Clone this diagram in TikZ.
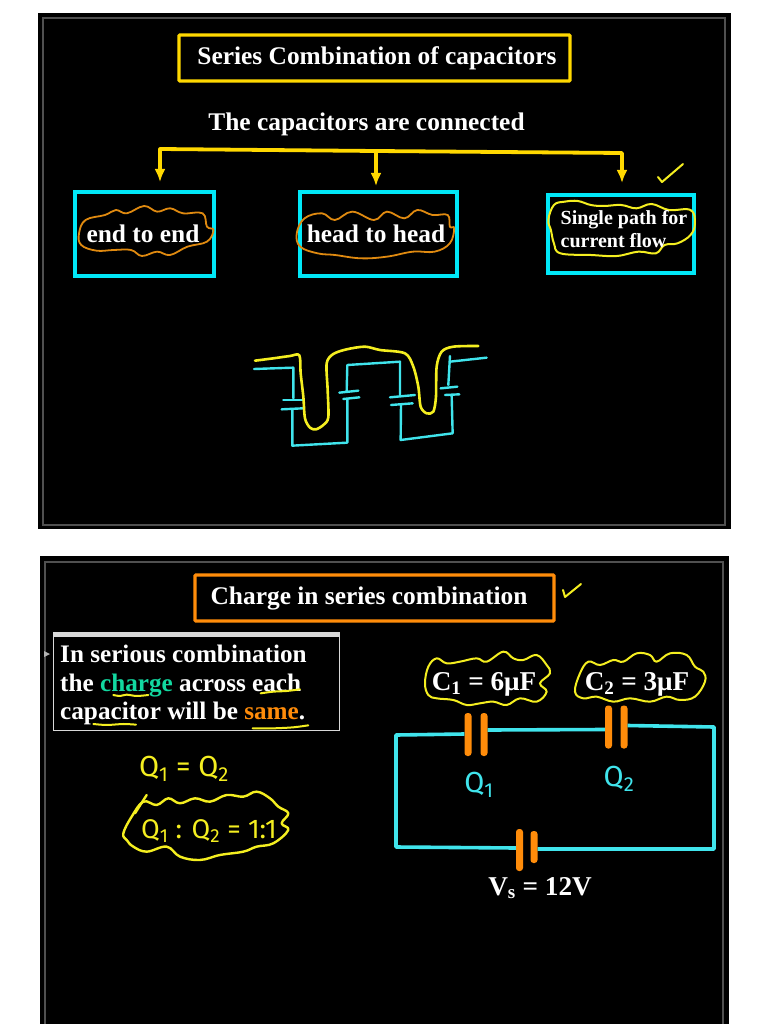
\documentclass[tikz,border=0pt]{standalone}
\usepackage{fontspec}
\setmainfont{Liberation Serif}
\newfontfamily\handfont{Fira Sans}
\usetikzlibrary{arrows.meta}
\definecolor{boxcyan}{HTML}{00E8F8}
\definecolor{wirecyan}{HTML}{40E4EC}
\definecolor{titleyellow}{HTML}{FFD800}
\definecolor{penyellow}{HTML}{F4EE20}
\definecolor{thinorange}{HTML}{E08A10}
\definecolor{plateorange}{HTML}{FF8C0A}
\definecolor{panelgrey}{HTML}{505050}
\definecolor{chargeteal}{HTML}{12D8A0}
\tikzset{
  panel/.style={fill=black,draw=none},
  innerline/.style={draw=panelgrey,line width=1.2pt},
  titlebox/.style={draw,line width=3.4pt,rounded corners=1pt,fill=black,text=white,font=\bfseries\fontsize{25.4}{28}\selectfont,inner sep=0pt},
  headtext/.style={text=white,font=\bfseries\fontsize{25.4}{28}\selectfont,inner sep=0pt},
  itemtext/.style={text=white,font=\bfseries\fontsize{25.4}{28}\selectfont,inner sep=0pt},
  smalltext/.style={text=white,align=left,font=\bfseries\fontsize{20}{23}\selectfont,inner sep=0pt},
  mathtext/.style={text=white,inner sep=0pt,font=\bfseries\fontsize{27.2}{30}\selectfont},
  cyanbox/.style={draw=boxcyan,line width=3.4pt,inner sep=0pt},
  busline/.style={draw=titleyellow,line width=3.8pt},
  busarrow/.style={draw=titleyellow,line width=3.2pt,-{Latex[length=13pt,width=11pt]}},
  cloudor/.style={draw=thinorange,line width=1.8pt},
  cloudye/.style={draw=penyellow,line width=2pt},
  pen/.style={draw=penyellow,line width=2pt,line cap=round,line join=round},
  wire/.style={draw=wirecyan,line width=3.6pt,line join=round},
  sketchwire/.style={draw=wirecyan,line width=2.4pt,line join=round,line cap=round},
  sketchpen/.style={draw=penyellow,line width=2.6pt,line join=round,line cap=round},
  plate/.style={fill=plateorange,draw=none,rounded corners=3pt,minimum width=7pt,inner sep=0pt},
  hand/.style={font=\handfont\fontsize{29}{32}\selectfont,inner sep=0pt},
  mapA/.style={shift={(40pt,-130pt)},x=0.4337pt,y=-0.3333pt},
  mapB/.style={shift={(230pt,-330pt)},x=0.3333pt,y=-0.3333pt},
  mapC/.style={shift={(40pt,-620pt)},x=0.3333pt,y=-0.3333pt},
  mapD/.style={shift={(380pt,-640pt)},x=0.3333pt,y=-0.3333pt},
  cloudplot/.style={smooth cycle,tension=0.65}
}
\begin{document}
\begin{tikzpicture}[x=1pt,y=-1pt]
\useasboundingbox (0,0) rectangle (768,1024);
\fill[white] (0,0) rectangle (768,1024);
% panels
\path[panel] (38,13) rectangle (731,529);
\draw[innerline] (43,18) rectangle (725,525);
\path[panel] (40,556) rectangle (729,1024);
\draw[innerline] (45,1024) -- (45,562) -- (723,562) -- (723,1024);

% --- top panel
\node[titlebox,draw=titleyellow,minimum width=391pt,minimum height=46pt] (title1) at (374.5,58) {\hspace{5pt}\raisebox{-1pt}{Series Combination of capacitors}};
\node[headtext] (lead) at (366.5,124) {The capacitors are connected};

\node[cyanbox,minimum width=139pt,minimum height=84pt] (box1) at (144.5,234) {};
\node[cyanbox,minimum width=157pt,minimum height=84pt] (box2) at (378.5,234) {};
\node[cyanbox,minimum width=146pt,minimum height=78pt] (box3) at (621,234) {};

\coordinate (busL) at (160,149);
\coordinate (busM) at (376,151);
\coordinate (busR) at (622,153);
\coordinate (tip1) at (160,182);
\coordinate (tip2) at (376,186);
\coordinate (tip3) at (622,183);
\draw[busline,line join=round] (tip1 |- 0,168) -- (busL) -- (busM) -- (busR) -- (tip3 |- 0,168);
\draw[busarrow] (busL) -- (tip1);
\draw[busarrow] (busM) -- (tip2);
\draw[busarrow] (busR) -- (tip3);

\begin{scope}[mapA]
\draw[cloudor] plot[cloudplot] coordinates {(90,310)(105,270)(150,255)(175,240)(200,250)(240,228)(270,245)(300,235)(330,250)(375,250)(385,290)(400,300)(385,335)(340,350)(300,375)(270,365)(235,378)(210,360)(170,360)(130,362)(95,345)};
\draw[cloudor] plot[cloudplot] coordinates {(592,310)(610,265)(650,250)(680,270)(720,245)(770,270)(800,245)(840,265)(870,240)(905,255)(940,255)(945,290)(955,295)(945,340)(910,365)(860,365)(800,380)(740,385)(680,375)(640,370)(600,350)};
\draw[cloudye] plot[cloudplot] coordinates {(1172,270)(1185,225)(1210,215)(1240,213)(1270,225)(1300,228)(1340,225)(1375,235)(1410,222)(1450,240)(1500,240)(1510,280)(1500,315)(1470,340)(1440,345)(1420,370)(1380,365)(1330,378)(1270,375)(1200,370)(1185,340)(1178,300)};
\end{scope}
\node[itemtext] (t1) at (143,234) {end to end};
\node[itemtext] (t2) at (376,234) {head to head};
\node[smalltext] (t3) at (624,229) {Single path for\\current flow};
\draw[pen] (658,177) -- (662,182) -- (683,164);

% sketch of capacitors in series
\begin{scope}[mapB]
\draw[sketchwire] (72,117) -- (190,113) -- (190,205);
\draw[sketchwire] (160,210) -- (218,210);
\draw[sketchwire] (155,238) -- (218,235);
\draw[sketchwire] (187,240) -- (187,347) -- (352,338) -- (352,207);
\draw[sketchwire] (340,207) -- (388,202);
\draw[sketchwire] (328,188) -- (385,182);
\draw[sketchwire] (350,185) -- (352,105) -- (510,95) -- (510,197);
\draw[sketchwire] (480,202) -- (555,195);
\draw[sketchwire] (483,225) -- (548,220);
\draw[sketchwire] (513,225) -- (512,330) -- (668,310) -- (665,195);
\draw[sketchwire] (645,195) -- (688,193);
\draw[sketchwire] (632,175) -- (682,170);
\draw[sketchwire] (655,165) -- (660,78);
\draw[sketchwire] (660,95) -- (770,83);
\draw[sketchpen] plot[smooth,tension=0.5] coordinates {(75,92)(130,85)(180,78)(208,76)(212,130)(220,200)(225,265)(240,293)(258,298)(280,285)(295,262)(293,180)(290,100)(310,72)(350,58)(405,50)(450,60)(525,70)(550,110)(565,170)(572,230)(590,250)(610,245)(618,200)(620,110)(635,65)(670,50)(745,48)};
\end{scope}

% --- bottom panel
\node[titlebox,draw=plateorange,minimum width=359pt,minimum height=46pt] (title2) at (374.5,598) {\hspace{-11pt}Charge in series combination};
\draw[pen] (563,590) -- (565,597) -- (581,584);

% text box
\node[draw=white!85!black,line width=1pt,fill=black,minimum width=286pt,minimum height=98pt,inner sep=0pt] (textbox) at (196,681) {};
\fill[white!85!black] (53,632) rectangle (339,637);
\fill[white!70!black] (44,651) -- (50,654) -- (44,657) -- cycle;
\node[text=white,anchor=west,align=left,inner sep=0pt,font=\bfseries\fontsize{25.2}{28.5}\selectfont] (para) at (60,685) {In serious combination\\the \textcolor{chargeteal}{charge} across each\\capacitor will be \textcolor{plateorange}{same}.};
\begin{scope}[mapC]
\draw[pen] plot[smooth] coordinates {(220,225)(240,228)(260,224)(290,228)(325,225)};
\draw[pen] plot[smooth] coordinates {(662,220)(700,215)(740,213)(780,208)};
\draw[pen] plot[smooth] coordinates {(160,312)(200,315)(250,312)(288,314)};
\draw[pen] plot[smooth] coordinates {(638,325)(700,325)(760,322)(805,316)};
\draw[pen,line width=2.4pt] plot[cloudplot] coordinates {(250,640)(275,590)(310,545)(350,555)(385,535)(420,550)(465,535)(510,545)(560,525)(610,530)(650,515)(690,535)(715,560)(745,580)(725,610)(745,630)(700,670)(650,680)(610,695)(540,705)(480,720)(420,710)(380,680)(320,695)(280,680)(260,660)};
\draw[pen,line width=2.4pt] (285,580) -- (320,525);
\end{scope}
\node[hand,text=penyellow] (eq1) at (184,769) {Q\textsubscript{1} = Q\textsubscript{2}};
\node[hand,text=penyellow,font=\handfont\fontsize{27}{30}\selectfont] (eq2) at (209,831) {Q\textsubscript{1} : Q\textsubscript{2} = 1:1};

% circuit
\node[plate,minimum height=43pt] (c1a) at (468,734.5) {};
\node[plate,minimum height=43pt] (c1b) at (484,734.5) {};
\node[plate,minimum height=43pt] (c2a) at (608.5,727) {};
\node[plate,minimum height=43pt] (c2b) at (624,727) {};
\node[plate,minimum height=42pt] (vs1) at (519.5,850) {};
\node[plate,minimum height=32pt] (vs2) at (534,847) {};
\coordinate (tl) at (396,735);
\coordinate (bl) at (396,847);
\coordinate (tr) at (714,727);
\coordinate (br) at (714,849);
\draw[wire] (c1a.west |- 0,734) -- (tl) -- (bl) -- (vs1.west |- 0,848);
\draw[wire] (c1b.east |- 0,730) -- (c2a.west |- 0,729.5);
\draw[wire] (c2b.east |- 0,725.5) -- (tr) -- (br) -- (vs2.east |- 0,849);
\node[mathtext] (c1lab) at (484,684) {C\textsubscript{1} = 6μF};
\node[mathtext] (c2lab) at (637,684) {C\textsubscript{2} = 3μF};
\node[mathtext] (vslab) at (540,888) {V\textsubscript{s} = 12V};
\begin{scope}[mapD]
\draw[cloudye] plot[cloudplot] coordinates {(135,130)(145,80)(170,55)(200,70)(240,65)(290,55)(320,65)(370,35)(400,55)(430,60)(470,45)(500,75)(510,100)(480,130)(500,155)(470,185)(420,175)(380,195)(340,185)(300,190)(260,195)(220,180)(170,175)(145,165)};
\draw[cloudye] plot[cloudplot] coordinates {(585,155)(600,100)(625,65)(660,75)(700,60)(730,65)(770,40)(810,45)(830,65)(870,40)(920,45)(945,80)(970,95)(975,125)(945,170)(900,180)(860,170)(810,185)(750,175)(700,185)(650,170)(610,175)};
\end{scope}
\node[hand,text=wirecyan] (q1) at (479,785) {Q\textsubscript{1}};
\node[hand,text=wirecyan] (q2) at (619,779) {Q\textsubscript{2}};
\end{tikzpicture}
\end{document}
